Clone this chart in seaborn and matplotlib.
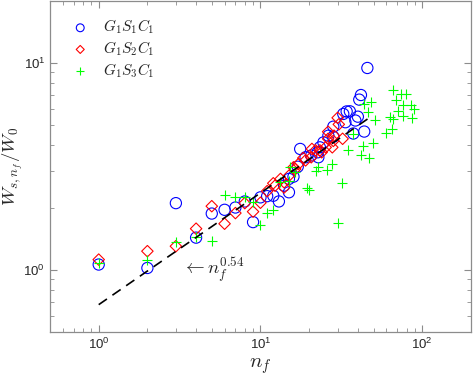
import numpy as np
import pandas as pd
import matplotlib
matplotlib.use("Agg")
import matplotlib.pyplot as plt
import seaborn as sns

# G1S1C1 (blue circles)
s1_nf = [1, 2, 3, 4, 5, 6, 7, 8, 9, 10, 11, 12, 13, 14, 15, 15, 16, 17,
         17.6, 19, 20.6, 22.6, 22.8, 23.3, 24.5, 26.3, 28.2, 28.2, 32.5, 33.5,
         34.1, 35.7, 37.5, 38.6, 40, 43.8, 40.8, 41.8, 45.8]
s1_w = [1.06, 1.02, 2.10, 1.43, 1.87, 1.95, 2.00, 2.14, 1.70, 2.24, 2.27, 2.28, 2.14, 2.55, 2.37, 2.75, 2.82, 3.15,
        3.84, 3.50, 3.57, 3.70, 3.50, 3.91, 4.13, 4.45, 4.92, 4.40, 5.67, 5.17,
        5.83, 5.84, 4.56, 5.27, 5.50, 4.66, 6.65, 7.00, 9.46]

# G1S2C1 (red diamonds)
s2_nf = [1, 2, 3, 4, 5, 6, 7, 8, 9, 10, 11, 12, 12.3, 13.3, 14, 14, 15, 16,
         16.4, 17.2, 18.4, 19, 20.6, 20.8, 21.9, 23.3, 23.9, 25.3, 26.2, 26.2,
         27.8, 28.5, 28.2, 30, 30.5, 32.2]
s2_w = [1.12, 1.23, 1.30, 1.58, 2.03, 1.67, 1.88, 2.10, 1.91, 2.11, 2.40, 2.62, 2.55, 2.75, 2.50, 2.65, 2.85, 3.13,
        3.07, 3.25, 3.47, 3.38, 3.50, 3.84, 3.78, 3.78, 3.70, 3.91, 4.30, 4.65,
        3.91, 4.45, 4.20, 5.43, 5.05, 4.30]

# G1S3C1 (green pluses)
s3_nf = [1, 2, 3, 4, 5, 6, 7, 8, 9, 10, 11, 12, 13.2, 15, 15.3, 16.4, 19.3, 20,
         22, 22.6, 25.9, 27.8, 30, 32, 34.7, 37.5, 42, 43.2, 43.8, 46.9, 48, 46.4,
         49.5, 51, 60.1, 65, 63, 66, 71, 76, 65.9, 69.1, 74.4, 79.9, 76, 85, 89.4, 86.5]
s3_w = [1.08, 1.11, 1.36, 1.44, 1.375, 2.30, 2.24, 2.26, 2.12, 1.64, 1.88, 1.95, 2.65, 2.70, 3.13, 2.96, 2.49, 2.42,
        3.00, 3.13, 3.04, 3.25, 1.68, 2.62, 3.78, 4.56, 3.57, 3.98, 6.34, 3.47, 6.45, 5.78,
        4.08, 5.30, 4.57, 4.80, 5.50, 5.36, 5.89, 5.56, 7.41, 6.64, 7.10, 7.10, 6.29, 6.29, 6.00, 5.43]

# power-law guide ~ n_f^0.54
fit_nf = [1, 48]
fit_w = [0.678, 5.49]

sns.set_style("ticks")
plt.rcParams['font.family'] = ['Liberation Sans', 'DejaVu Sans']
plt.rcParams['mathtext.fontset'] = 'cm'

fig = plt.figure(figsize=(4.74, 3.76), dpi=100)
ax = fig.add_axes([0.1055, 0.117, 0.888, 0.881])

sns.scatterplot(x=s1_nf, y=s1_w, ax=ax, marker='o', s=65, facecolor='none',
                edgecolor='#0000ff', linewidth=0.8, label=r'$G_1S_1C_1$')
sns.scatterplot(x=s2_nf, y=s2_w, ax=ax, marker='D', s=34, facecolor='none',
                edgecolor='#ff0000', linewidth=0.8, label=r'$G_1S_2C_1$')
sns.scatterplot(x=s3_nf, y=s3_w, ax=ax, marker='+', s=60, color='#00ff00',
                linewidth=0.8, label=r'$G_1S_3C_1$')
sns.lineplot(x=fit_nf, y=fit_w, ax=ax, color='k', linestyle=(0, (6, 4)), linewidth=1.2)

ax.set_xscale('log')
ax.set_yscale('log')
ax.set_xlim(0.5, 200)
ax.set_ylim(0.5, 20)

ax.text(3.25, 1.0, r'$\leftarrow n_f^{0.54}$', fontsize=13.5, va='center', ha='left')

ax.set_xlabel(r'$n_f$', fontsize=15)
ax.set_ylabel(r'$W_{s,n_f}/W_0$', fontsize=13.5)
ax.xaxis.set_label_coords(0.5, -0.072)
ax.yaxis.set_label_coords(-0.06, 0.5)

for sp in ax.spines.values():
    sp.set_visible(True)
    sp.set_color('#8c8c8c')
    sp.set_linewidth(0.9)
ax.tick_params(which='both', direction='in', top=True, right=True, color='#8c8c8c',
               labelsize=9.5, labelcolor='#262626')
ax.tick_params(which='major', length=5)
ax.tick_params(which='minor', length=3)

leg = ax.legend(loc='upper left', frameon=False, fontsize=11, handletextpad=0.5,
                borderaxespad=0, labelspacing=0.2, markerscale=0.7,
                bbox_to_anchor=(0.021, 0.967))

fig.savefig('out.png', dpi=100)
